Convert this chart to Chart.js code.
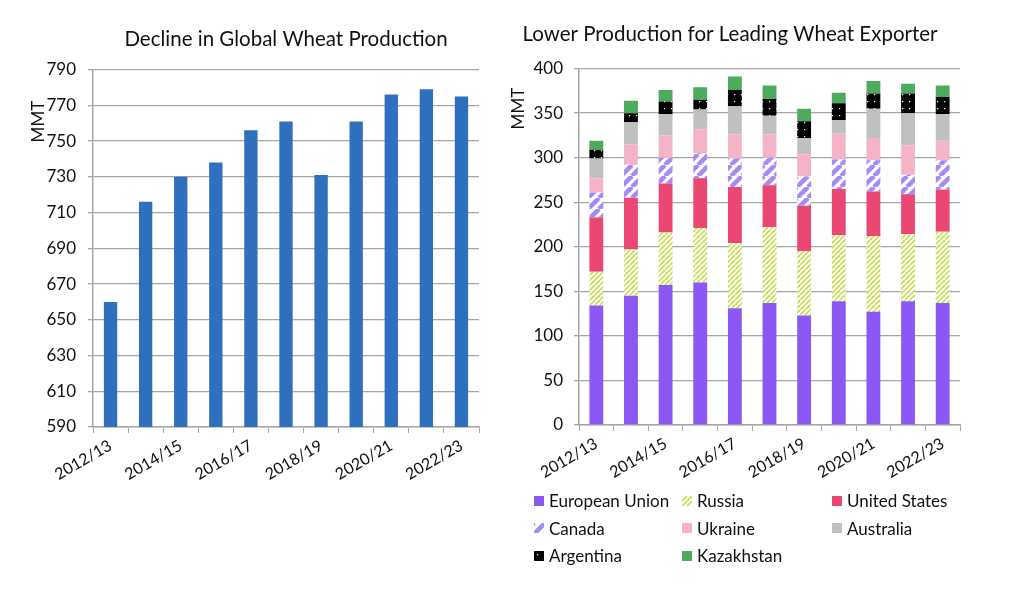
<!DOCTYPE html>
<html>
<head>
<meta charset="utf-8">
<script src="https://cdn.jsdelivr.net/npm/chart.js@4.4.1/dist/chart.umd.min.js"></script>
<style>
  body { margin: 0; background: #fff; font-family: Lato, sans-serif; }
  #wrap { position: relative; width: 1024px; height: 600px; overflow: hidden; }
  #leftBox { position: absolute; left: 0; top: 0; width: 490px; height: 500px; }
  #rightBox { position: absolute; left: 500px; top: 0; width: 482px; height: 490px; }
  #legend {
    position: absolute; left: 534px; top: 487px;
    display: grid; grid-template-columns: 148px 150px 150px; grid-auto-rows: 27.5px;
    font-size: 17px; color: #111;
  }
  #legend .item { display: flex; align-items: center; }
  #legend canvas { width: 10px; height: 10px; margin-right: 5px; }
</style>
</head>
<body>
<div id="wrap">
  <div id="leftBox"><canvas id="globalChart"></canvas></div>
  <div id="rightBox"><canvas id="exporterChart"></canvas></div>
  <div id="legend"></div>
</div>
<script>
// data
const seasons = ["2012/13", "2013/14", "2014/15", "2015/16", "2016/17", "2017/18",
  "2018/19", "2019/20", "2020/21", "2021/22", "2022/23"];
const globalProduction = [660, 716, 730, 738, 756, 761, 731, 761, 776, 779, 775];

const euProd = [134, 145, 157, 160, 131, 137, 123, 139, 127, 139, 137];
const russiaProd = [38, 52, 59, 61, 73, 85, 72, 74, 85, 75, 80];
const usProd = [61, 58, 55, 56, 63, 47, 51, 52, 50, 45, 47];
const canadaProd = [28, 37, 29, 28, 32, 31, 33, 33, 35, 22, 33];
const ukraineProd = [16, 23, 25, 27, 27, 26, 25, 29, 25, 33, 22];
const australiaProd = [22, 25, 24, 22, 32, 21, 18, 15, 33, 36, 30];
const argentinaProd = [10, 10, 14, 11, 18, 19, 19, 19, 17, 22, 19];
const kazakhstanProd = [10, 14, 13, 14, 15, 15, 14, 12, 14, 11, 13];

const leftTicks = { min: 590, max: 790, step: 20 };
const rightTicks = { min: 0, max: 400, step: 50 };

const FONT = "Lato, 'Open Sans', sans-serif";
const GRID = "#a6a6a6";

// hatch patterns
function stripes(color, size, width) {
  const c = document.createElement("canvas");
  c.width = c.height = size;
  const g = c.getContext("2d");
  g.fillStyle = "#fff";
  g.fillRect(0, 0, size, size);
  g.strokeStyle = color;
  g.lineWidth = width;
  for (const x0 of [-size, 0, size]) {
    g.beginPath();
    g.moveTo(x0, size);
    g.lineTo(x0 + size, 0);
    g.stroke();
  }
  return c;
}
function dots() {
  const c = document.createElement("canvas");
  c.width = c.height = 7;
  const g = c.getContext("2d");
  g.fillStyle = "#000";
  g.fillRect(0, 0, 7, 7);
  g.fillStyle = "#fff";
  g.fillRect(3, 3, 1.2, 1.2);
  return c;
}
const tmp = document.createElement("canvas").getContext("2d");
const pat = (tile) => tmp.createPattern(tile, "repeat");

const russiaTile = stripes("#c6df55", 5, 1.8);
const canadaTile = stripes("#a689f5", 11, 4.5);
const argTile = dots();

const exporters = [
  { label: "European Union", data: euProd, color: "#8c58f5" },
  { label: "Russia", data: russiaProd, color: pat(russiaTile), tile: russiaTile },
  { label: "United States", data: usProd, color: "#ea4873" },
  { label: "Canada", data: canadaProd, color: pat(canadaTile), tile: canadaTile },
  { label: "Ukraine", data: ukraineProd, color: "#f4b4c8" },
  { label: "Australia", data: australiaProd, color: "#c0c0c0" },
  { label: "Argentina", data: argentinaProd, color: pat(argTile), tile: argTile },
  { label: "Kazakhstan", data: kazakhstanProd, color: "#4eaa5c" },
];

// y axis label near the top, like the original
const yLabel = {
  id: "yLabel",
  afterDraw(chart, args, opts) {
    const { ctx, chartArea } = chart;
    ctx.save();
    ctx.translate(chartArea.left - opts.dx, chartArea.top + opts.dy);
    ctx.rotate(-Math.PI / 2);
    ctx.font = "17px " + FONT;
    ctx.fillStyle = "#111";
    ctx.textAlign = "center";
    ctx.textBaseline = "middle";
    ctx.fillText(opts.text, 0, 0);
    ctx.restore();
  },
};

function scales(t, yWidth, xHeight, pad) {
  return {
    x: {
      stacked: true,
      grid: { offset: true, drawOnChartArea: false, color: GRID, tickLength: 6 },
      border: { color: GRID, width: 1.5 },
      ticks: {
        autoSkip: false, minRotation: 30, maxRotation: 30, color: "#111",
        font: { family: FONT, size: 16 },
        callback: (v, i) => (i % 2 === 0 ? seasons[i] : ""),
      },
      afterFit: (s) => { s.height = xHeight; },
    },
    y: {
      stacked: true,
      min: t.min, max: t.max,
      grid: { color: GRID, lineWidth: 1.3, tickLength: 5 },
      border: { color: GRID, width: 1.5 },
      ticks: { stepSize: t.step, color: "#111", font: { family: FONT, size: 17 }, padding: pad },
      afterFit: (s) => { s.width = yWidth; },
    },
  };
}

function titleOpts(text, top, bottom, fullSize) {
  return {
    display: true, text, fullSize, color: "#111",
    font: { family: FONT, size: 20.5, weight: "normal" },
    padding: { top, bottom },
  };
}

window.addEventListener("DOMContentLoaded", () => {
  // 1. Global production
  new Chart(document.getElementById("globalChart"), {
    type: "bar",
    data: {
      labels: seasons,
      datasets: [{
        data: globalProduction,
        backgroundColor: "#2e6fbe",
        barPercentage: 0.38,
        categoryPercentage: 1,
      }],
    },
    options: {
      responsive: true, maintainAspectRatio: false, animation: false,
      layout: { padding: { right: 11 } },
      scales: scales(leftTicks, 93, 73, 12),
      plugins: {
        legend: { display: false },
        tooltip: { enabled: false },
        title: titleOpts("Decline in Global Wheat Production", 27, 18, false),
        yLabel: { text: "MMT", dx: 54, dy: 52 },
      },
    },
    plugins: [yLabel],
  });

  // 2. Leading exporters, stacked
  new Chart(document.getElementById("exporterChart"), {
    type: "bar",
    data: {
      labels: seasons,
      datasets: exporters.map((e) => ({
        label: e.label,
        data: e.data,
        backgroundColor: e.color,
        barPercentage: 0.4,
        categoryPercentage: 1,
      })),
    },
    options: {
      responsive: true, maintainAspectRatio: false, animation: false,
      layout: { padding: { right: 22 } },
      scales: scales(rightTicks, 79, 65, 11),
      plugins: {
        legend: { display: false },
        tooltip: { enabled: false },
        title: titleOpts("Lower Production for Leading Wheat Exporter", 22, 22, true),
        yLabel: { text: "MMT", dx: 60, dy: 40 },
      },
    },
    plugins: [yLabel],
  });

  // 3. Legend in three columns
  document.getElementById("legend").innerHTML = exporters
    .map((e, i) => `<div class="item"><canvas id="sw${i}" width="10" height="10"></canvas><span>${e.label}</span></div>`)
    .join("");
  exporters.forEach((e, i) => {
    const g = document.getElementById("sw" + i).getContext("2d");
    g.fillStyle = e.tile ? g.createPattern(e.tile, "repeat") : e.color;
    g.fillRect(0, 0, 10, 10);
  });
});
</script>
</body>
</html>
